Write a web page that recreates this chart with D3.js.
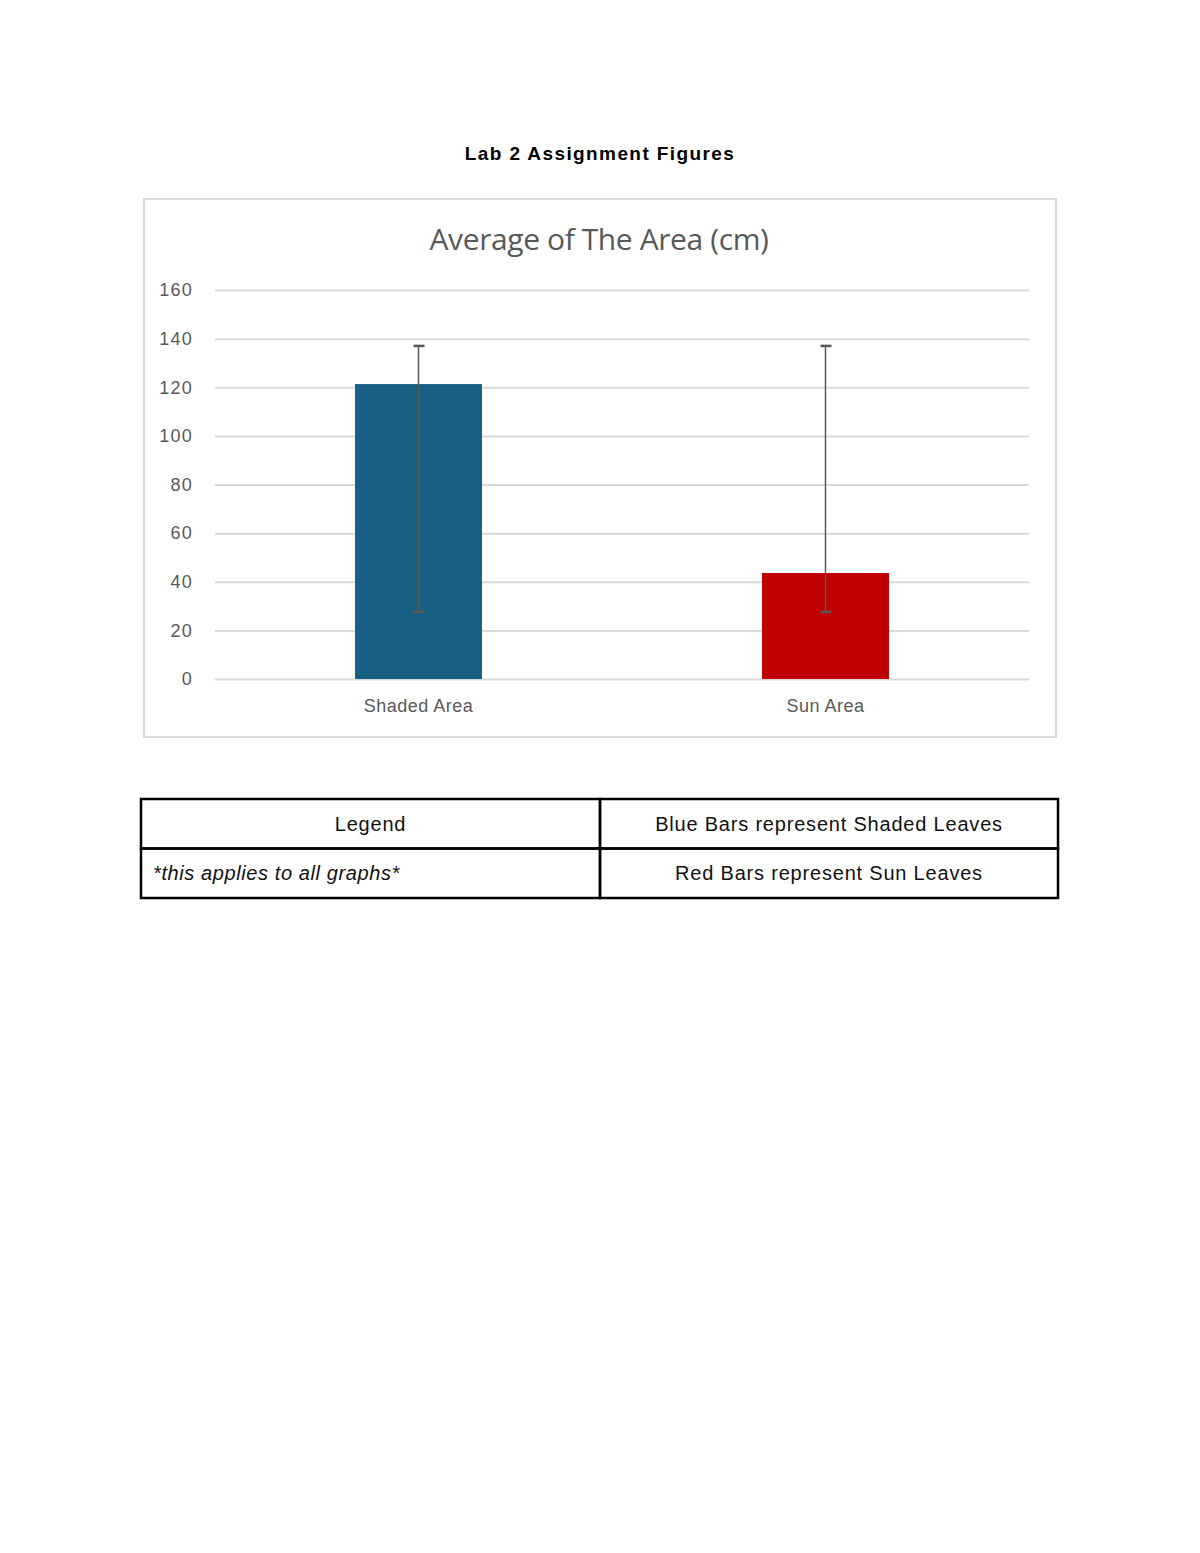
<!DOCTYPE html>
<html>
<head>
<meta charset="utf-8">
<script src="https://cdn.jsdelivr.net/npm/d3@7"></script>
<style>
  body { margin: 0; background: #fff; }
  svg { display: block; }
</style>
</head>
<body>
<svg id="page"></svg>
<script>
const categories = ['Shaded Area', 'Sun Area'];
const averages = [121.3, 43.6];
const errLow = [27.6, 27.6];
const errHigh = [137, 137];
const yTicks = [0, 20, 40, 60, 80, 100, 120, 140, 160];
const barColors = ['#176083', '#c00000'];
const legendRows = [
  ['Legend', 'Blue Bars represent Shaded Leaves'],
  ['*this applies to all graphs*', 'Red Bars represent Sun Leaves']
];

const svg = d3.select('#page').attr('width', 1200).attr('height', 1553);

// page heading
svg.append('text')
  .attr('x', 600).attr('y', 160)
  .attr('text-anchor', 'middle')
  .attr('font-family', 'Liberation Sans, Arial, sans-serif')
  .attr('font-weight', 'bold')
  .attr('font-size', 19)
  .attr('letter-spacing', 1.4)
  .text('Lab 2 Assignment Figures');

// chart frame
svg.append('rect')
  .attr('x', 144).attr('y', 199)
  .attr('width', 912).attr('height', 538)
  .attr('fill', '#fff')
  .attr('stroke', '#d9d9d9')
  .attr('stroke-width', 2);

svg.append('text')
  .attr('x', 599).attr('y', 250)
  .attr('text-anchor', 'middle')
  .attr('font-family', 'Open Sans, Noto Sans, sans-serif')
  .attr('font-size', 30)
  .attr('fill', '#595959')
  .attr('letter-spacing', -0.4)
  .text('Average of The Area (cm)');

const x = d3.scaleBand()
  .domain(categories)
  .range([215, 1029])
  .paddingInner(0.688)
  .paddingOuter(0.344);

const y = d3.scaleLinear().domain([0, 160]).range([679, 290]);

// gridlines
const yAxis = d3.axisLeft(y)
  .tickValues(yTicks)
  .tickSize(-(1029 - 215))
  .tickPadding(22);

const yg = svg.append('g')
  .attr('transform', 'translate(215,0)')
  .call(yAxis);
yg.select('.domain').remove();
yg.selectAll('.tick line').attr('stroke', '#d9d9d9').attr('stroke-width', 2);
yg.selectAll('.tick text')
  .attr('font-family', 'Liberation Sans, Arial, sans-serif')
  .attr('font-size', 18)
  .attr('fill', '#595959')
  .attr('letter-spacing', 1.2);

const data = categories.map((c, i) => ({
  cat: c, value: averages[i], lo: errLow[i], hi: errHigh[i], color: barColors[i]
}));

svg.selectAll('rect.bar')
  .data(data)
  .enter()
  .append('rect')
  .attr('class', 'bar')
  .attr('x', d => x(d.cat))
  .attr('width', x.bandwidth())
  .attr('y', d => y(d.value))
  .attr('height', d => y(0) - y(d.value))
  .attr('fill', d => d.color);

// error bars
const eb = svg.selectAll('g.err')
  .data(data)
  .enter()
  .append('g')
  .attr('class', 'err')
  .attr('stroke', '#595959')
  .attr('stroke-width', 1.5);

eb.append('line')
  .attr('x1', d => x(d.cat) + x.bandwidth() / 2)
  .attr('x2', d => x(d.cat) + x.bandwidth() / 2)
  .attr('y1', d => y(d.lo))
  .attr('y2', d => y(d.hi));
eb.append('line')
  .attr('x1', d => x(d.cat) + x.bandwidth() / 2 - 5)
  .attr('x2', d => x(d.cat) + x.bandwidth() / 2 + 6)
  .attr('y1', d => y(d.hi))
  .attr('y2', d => y(d.hi))
  .attr('stroke-width', 2.5);
eb.append('line')
  .attr('x1', d => x(d.cat) + x.bandwidth() / 2 - 5)
  .attr('x2', d => x(d.cat) + x.bandwidth() / 2 + 6)
  .attr('y1', d => y(d.lo))
  .attr('y2', d => y(d.lo))
  .attr('stroke-width', 2.5);

// category labels
const xAxis = d3.axisBottom(x).tickSize(0).tickPadding(20);
const xg = svg.append('g')
  .attr('transform', 'translate(0,679)')
  .call(xAxis);
xg.select('.domain').remove();
xg.selectAll('.tick text')
  .attr('font-family', 'Liberation Sans, Arial, sans-serif')
  .attr('font-size', 18)
  .attr('fill', '#595959')
  .attr('letter-spacing', 0.5);

// legend table
const table = svg.append('g');
const colX = [141, 600, 1058];
const rowY = [799, 848.5, 898];
legendRows.forEach((row, r) => {
  row.forEach((txt, c) => {
    table.append('rect')
      .attr('x', colX[c]).attr('y', rowY[r])
      .attr('width', colX[c + 1] - colX[c])
      .attr('height', rowY[r + 1] - rowY[r])
      .attr('fill', 'none')
      .attr('stroke', '#000')
      .attr('stroke-width', 2.5);
    const italic = r === 1 && c === 0;
    table.append('text')
      .attr('x', italic ? colX[c] + 12 : (colX[c] + colX[c + 1]) / 2)
      .attr('y', (rowY[r] + rowY[r + 1]) / 2 + 7)
      .attr('text-anchor', italic ? 'start' : 'middle')
      .attr('font-family', 'Liberation Sans, Arial, sans-serif')
      .attr('font-size', 20)
      .attr('font-style', italic ? 'italic' : 'normal')
      .attr('letter-spacing', italic ? 0.6 : 0.8)
      .attr('fill', '#111')
      .text(txt);
  });
});
</script>
</body>
</html>
